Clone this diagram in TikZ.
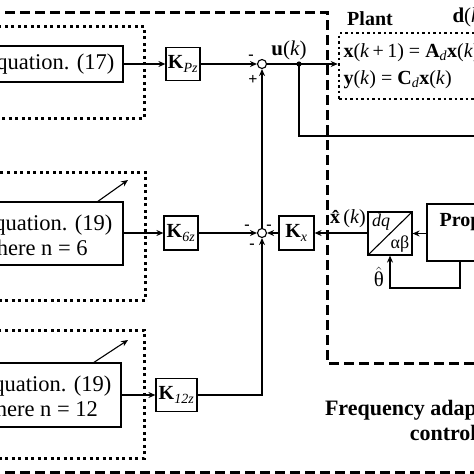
\documentclass[tikz,border=0pt]{standalone}
\usepackage{fontspec}
\setmainfont{Liberation Serif}
\usetikzlibrary{arrows.meta}
\begin{document}
\begin{tikzpicture}[x=1pt,y=-1pt,line width=1.1pt,
  arr/.style={-{Stealth[length=7pt,width=6pt]}},
  blk/.style={draw,line width=1.2pt,inner sep=0pt,fill=white},
  sumc/.style={draw,circle,line width=1.1pt,minimum size=9pt,inner sep=0pt,fill=white},
  bigdash/.style={line width=3pt,dash pattern=on 10pt off 5pt},
  dotbox/.style={line width=3pt,dash pattern=on 3pt off 3.5pt},
  eqtxt/.style={font=\fontsize{22.5}{25}\selectfont,inner sep=0pt,align=left},
  ktxt/.style={font=\fontsize{20}{22}\selectfont},
  lbl/.style={font=\fontsize{21}{24}\selectfont,inner sep=0pt},
  sgn/.style={font=\fontsize{16}{16}\selectfont\bfseries,inner sep=0pt}]
\useasboundingbox (0,0) rectangle (474,474);
\clip (0,0) rectangle (474,474);
% outer dashed frame
\draw[bigdash] (-10,12) -- (327,12) -- (327,363) -- (490,363);
\draw[bigdash] (-10,472) -- (490,472);
% dotted groups
\draw[dotbox] (-10,26) rectangle (144,118);
\draw[dotbox] (-10,172) rectangle (145,300);
\draw[dotbox] (-10,330) rectangle (144,458);
% inner boxes
\node[blk,minimum width=158pt,minimum height=36pt] (eq1) at (44,64) {};
\node[eqtxt,anchor=west] (t1) at (-18,64) {Equation. (17)};
\node[blk,minimum width=158pt,minimum height=63pt] (eq2) at (44,233.5) {};
\node[eqtxt,anchor=west] (t2) at (-20,235) {Equation. (19)\\where n = 6};
\node[blk,minimum width=156pt,minimum height=64pt] (eq3) at (43,395) {};
\node[eqtxt,anchor=west] (t3) at (-21,396) {Equation. (19)\\where n = 12};
% gains
\node[blk,ktxt,minimum width=34pt,minimum height=33pt] (kpz) at (183,64) {\textbf{K}\textsubscript{\textit{Pz}}};
\node[blk,ktxt,minimum width=34pt,minimum height=34pt] (k6z) at (181,233) {\textbf{K}\textsubscript{\textit{6z}}};
\node[blk,ktxt,minimum width=41pt,minimum height=33pt] (k12z) at (176.5,395) {\textbf{K}\textsubscript{\textit{12z}}};
\node[blk,ktxt,minimum width=35pt,minimum height=34pt] (kx) at (296.5,233) {\textbf{K}\textsubscript{\textit{x}}};
% sums
\node[sumc] (s1) at (262,64) {};
\node[sumc] (s2) at (262,233) {};
% plant
\node[draw,line width=2.5pt,dash pattern=on 2.5pt off 3pt,minimum width=150pt,minimum height=66pt,inner sep=0pt] (plant) at (414,66) {};
\node[lbl,font=\fontsize{20}{22}\selectfont\bfseries] (plantlbl) at (370,19) {Plant};
\node[lbl,anchor=west] (dk) at (452,17) {\textbf{d}(\textit{k})};
\node[lbl,anchor=west,font=\fontsize{20}{22}\selectfont] (pe1) at (343,53) {\textbf{x}(\textit{k}\,+\,1) = \textbf{A}\textsubscript{\textit{d}}\textbf{x}(\textit{k})};
\node[lbl,anchor=west,font=\fontsize{20}{22}\selectfont] (pe2) at (343,80) {\textbf{y}(\textit{k}) = \textbf{C}\textsubscript{\textit{d}}\textbf{x}(\textit{k})};
% dq transform and proposed block
\node[blk,minimum width=44pt,minimum height=43pt] (dq) at (390,233.5) {};
\draw (dq.south west) -- (dq.north east);
\node[lbl,font=\fontsize{18}{20}\selectfont\itshape] (dqt) at (381,222) {dq};
\node[lbl,font=\fontsize{18}{20}\selectfont] (abt) at (400,244) {αβ};
\node[blk,minimum width=100pt,minimum height=57pt] (prop) at (477,232.5) {};
\node[lbl,anchor=west,font=\fontsize{20}{22}\selectfont\bfseries] (propt) at (439,222) {Proposed};
% labels
\node[lbl] (uk) at (289,50) {\textbf{u}(\textit{k})};
\node[lbl,font=\fontsize{20}{22}\selectfont] (xh) at (348,219) {\textbf{\^{x}}(\textit{k})};
\node[lbl] (th) at (379,277) {$\hat{\hbox{θ}}$};
\node[sgn] (m1) at (251,57) {-};
\node[sgn] (p1) at (253,80) {+};
\node[sgn] (m2) at (247,227) {-};
\node[sgn] (m3) at (269,227) {-};
\node[sgn] (m4) at (252,246) {-};
\node[font=\fontsize{22}{25}\selectfont\bfseries,align=center,inner sep=0pt] (freq) at (456,420.5) {Frequency adaptive current\\controller};
% coordinates
\coordinate (br) at (299,64);
\coordinate (brend) at (490,136);
\coordinate (fb) at (460,288);
\coordinate (d2a) at (97,202);
\coordinate (d2b) at (128,180);
\coordinate (d3a) at (93,363);
\coordinate (d3b) at (128,340);
% connectors
\draw[arr] (eq1.east) -- (kpz.west);
\draw[arr] (kpz.east) -- (s1.west);
\draw[arr] (s1.east) -- (s1.east -| plant.west);
\fill (br) circle (2.6pt);
\draw (br) |- (brend);
\draw[arr] (s2.north) -- (s1.south);
\draw[arr] (eq2.east |- k6z) -- (k6z.west);
\draw[arr] (k6z.east) -- (s2.west);
\draw[arr] (kx.west) -- (s2.east);
\draw[arr] (dq.west |- kx) -- (kx.east);
\draw[arr] (prop.west |- dq) -- (dq.east);
\draw[arr] (prop.south -| fb) -- (fb) -| (dq.south);
\draw[arr] (eq3.east |- k12z) -- (k12z.west);
\draw[arr] (k12z.east) -| (s2.south);
\draw[arr] (d2a) -- (d2b);
\draw[arr] (d3a) -- (d3b);
\end{tikzpicture}
\end{document}
